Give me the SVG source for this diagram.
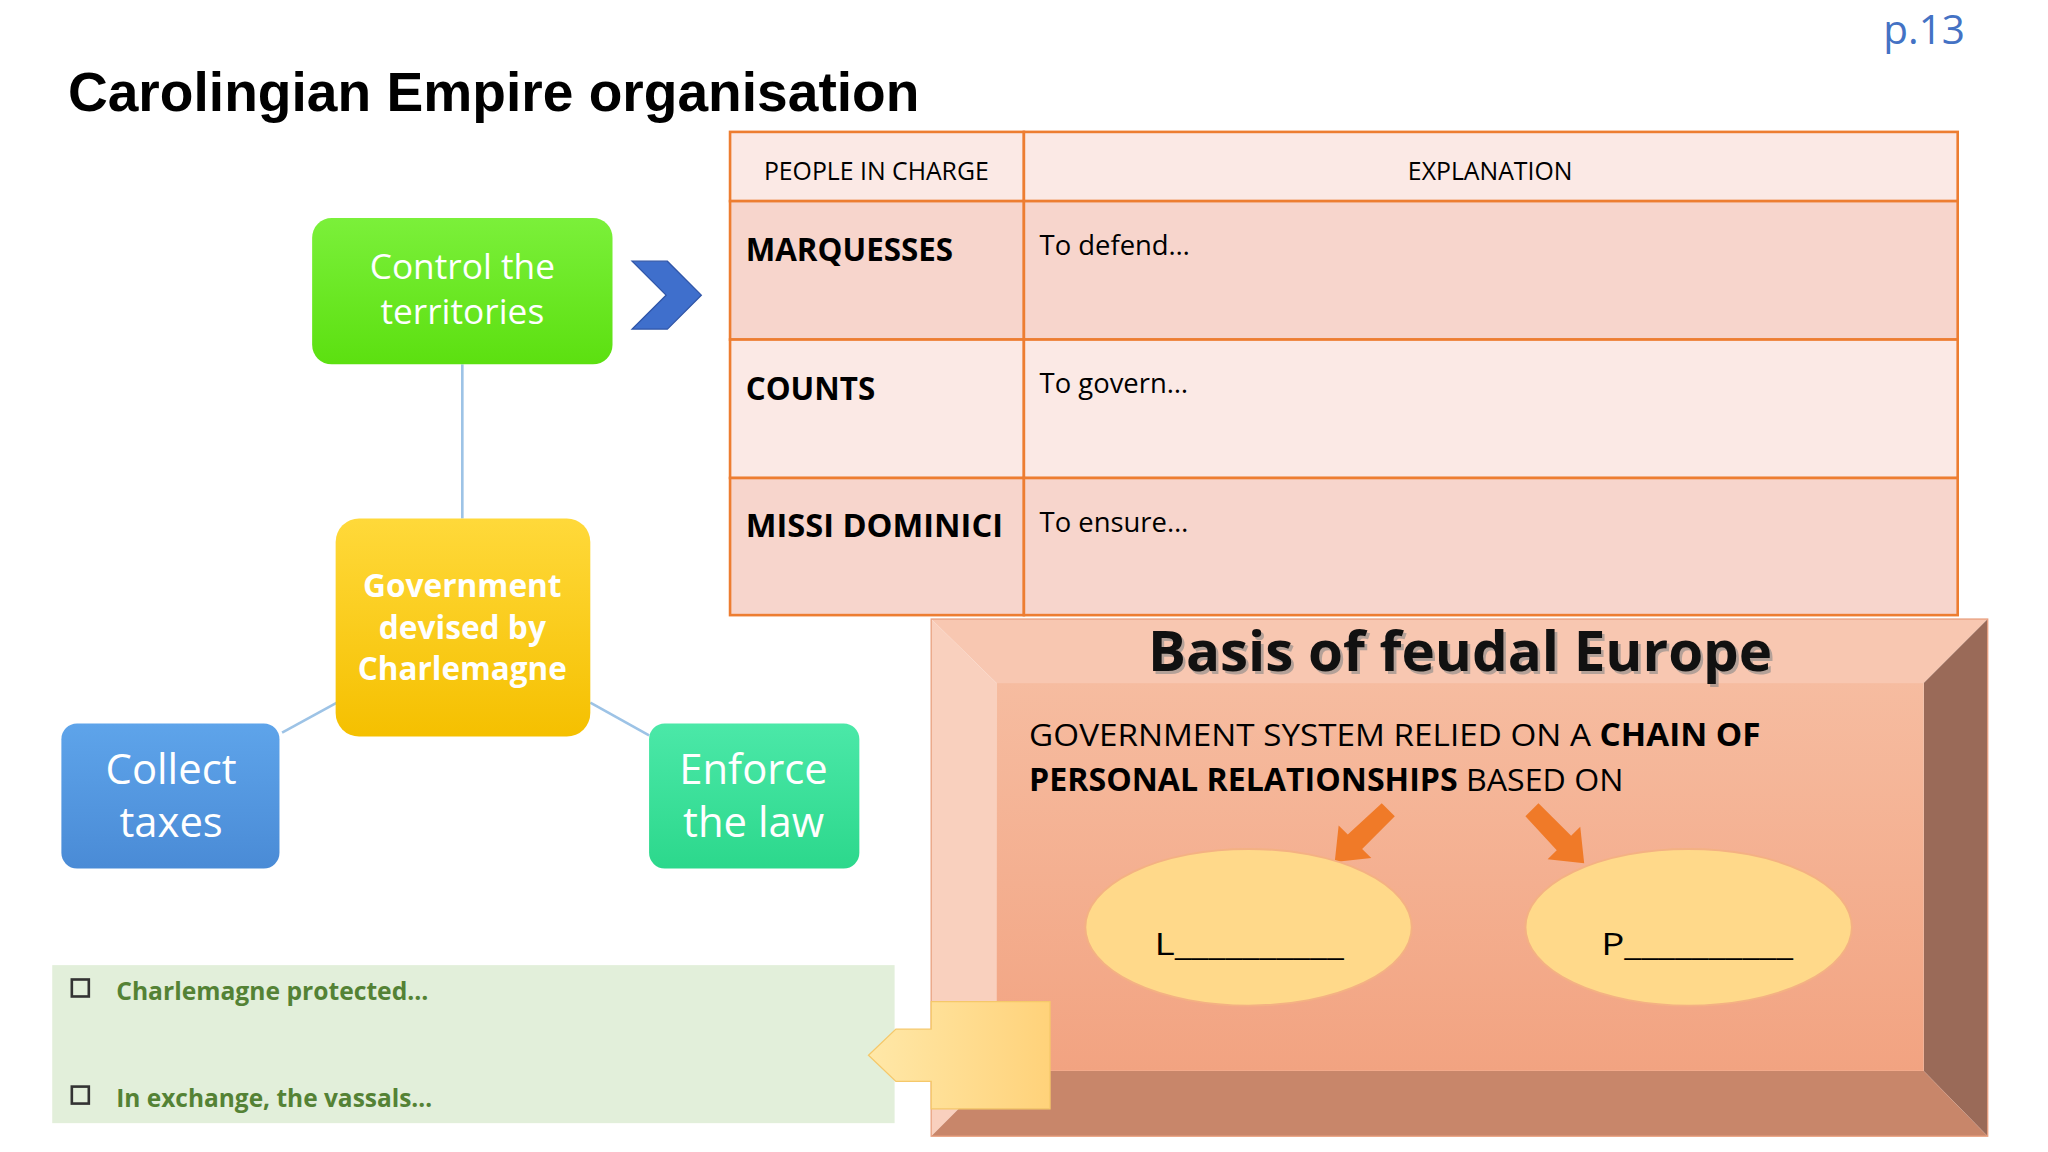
<svg xmlns="http://www.w3.org/2000/svg" width="2048" height="1152" viewBox="0 0 2048 1152">
<style>
.t{font-family:"Open Sans","Noto Sans",sans-serif}
.w{fill:#fff}
.cell{stroke:#ED7D31;stroke-width:2}
.con{stroke:#9DC3E6;stroke-width:2;fill:none}
</style>
<defs>
<linearGradient id="gG" x1="0" y1="0" x2="0" y2="1"><stop offset="0" stop-color="#7BF03A"/><stop offset="1" stop-color="#5CE010"/></linearGradient>
<linearGradient id="gY" x1="0" y1="0" x2="0" y2="1"><stop offset="0" stop-color="#FFD93A"/><stop offset="1" stop-color="#F5C000"/></linearGradient>
<linearGradient id="gB" x1="0" y1="0" x2="0" y2="1"><stop offset="0" stop-color="#5EA4EA"/><stop offset="1" stop-color="#4A8BD6"/></linearGradient>
<linearGradient id="gT" x1="0" y1="0" x2="0" y2="1"><stop offset="0" stop-color="#4BE8A8"/><stop offset="1" stop-color="#2CD88C"/></linearGradient>
<linearGradient id="gF" x1="0" y1="0" x2="0" y2="1"><stop offset="0" stop-color="#F6BCA0"/><stop offset="1" stop-color="#F2A381"/></linearGradient>
<linearGradient id="gA" x1="0" y1="0" x2="1" y2="0"><stop offset="0" stop-color="#FFE8A8"/><stop offset="1" stop-color="#FFD27A"/></linearGradient>
</defs>
<g transform="scale(1.306)">
<text x="52" y="85" font-family="Liberation Sans,Arial,sans-serif" font-size="43" font-weight="bold" fill="#000" textLength="652" lengthAdjust="spacingAndGlyphs">Carolingian Empire organisation</text>
<text x="1442" y="34" class="t" font-size="31" fill="#4472C4">p.13</text>

<g id="table">
<rect x="559" y="101" width="225" height="53" fill="#FBE9E5" class="cell"/>
<rect x="784" y="101" width="715" height="53" fill="#FBE9E5" class="cell"/>
<rect x="559" y="154" width="225" height="106" fill="#F7D5CC" class="cell"/>
<rect x="784" y="154" width="715" height="106" fill="#F7D5CC" class="cell"/>
<rect x="559" y="260" width="225" height="106" fill="#FBE9E5" class="cell"/>
<rect x="784" y="260" width="715" height="106" fill="#FBE9E5" class="cell"/>
<rect x="559" y="366" width="225" height="105" fill="#F7D5CC" class="cell"/>
<rect x="784" y="366" width="715" height="105" fill="#F7D5CC" class="cell"/>
<text x="671" y="138" class="t" font-size="19" text-anchor="middle">PEOPLE IN CHARGE</text>
<text x="1141" y="138" class="t" font-size="19" text-anchor="middle">EXPLANATION</text>
<text x="571" y="200" class="t" font-size="24" font-weight="bold">MARQUESSES</text>
<text x="571" y="306" class="t" font-size="24" font-weight="bold">COUNTS</text>
<text x="571" y="411" class="t" font-size="24" font-weight="bold" textLength="197" lengthAdjust="spacingAndGlyphs">MISSI DOMINICI</text>
<text x="796" y="195" class="t" font-size="21">To defend…</text>
<text x="796" y="301" class="t" font-size="21">To govern…</text>
<text x="796" y="407" class="t" font-size="21">To ensure…</text>
</g>

<g id="chevron"><polygon points="484,200 511,200 537,226 511,252 484,252 510,226" fill="#3F6FCC" stroke="#2F55A8" stroke-width="1"/></g>

<g id="connectors">
<line x1="354" y1="279" x2="354" y2="397" class="con"/>
<line x1="216" y1="561" x2="258" y2="538" class="con"/>
<line x1="452" y1="538" x2="497" y2="563" class="con"/>
</g>

<g id="control"><rect x="239" y="167" width="230" height="112" rx="15" fill="url(#gG)"/>
<text x="354" y="214" class="t w" font-size="27" text-anchor="middle">Control the</text>
<text x="354" y="248" class="t w" font-size="27" text-anchor="middle">territories</text></g>

<g id="gov"><rect x="257" y="397" width="195" height="167" rx="18" fill="url(#gY)"/>
<text x="354" y="457" class="t w" font-size="25" font-weight="bold" text-anchor="middle" textLength="152" lengthAdjust="spacingAndGlyphs">Government</text>
<text x="354" y="489" class="t w" font-size="25" font-weight="bold" text-anchor="middle" textLength="128" lengthAdjust="spacingAndGlyphs">devised by</text>
<text x="354" y="521" class="t w" font-size="25" font-weight="bold" text-anchor="middle" textLength="160" lengthAdjust="spacingAndGlyphs">Charlemagne</text></g>

<g id="collect"><rect x="47" y="554" width="167" height="111" rx="12" fill="url(#gB)"/>
<text x="131" y="600" class="t w" font-size="32" text-anchor="middle">Collect</text>
<text x="131" y="641" class="t w" font-size="32" text-anchor="middle">taxes</text></g>

<g id="enforce"><rect x="497" y="554" width="161" height="111" rx="12" fill="url(#gT)"/>
<text x="577" y="600" class="t w" font-size="32" text-anchor="middle">Enforce</text>
<text x="577" y="641" class="t w" font-size="32" text-anchor="middle">the law</text></g>

<g id="notes"><rect x="40" y="739" width="645" height="121" fill="#E2EFDA"/>
<rect x="55" y="750" width="13" height="13" fill="none" stroke="#333" stroke-width="2"/>
<rect x="55" y="832" width="13" height="13" fill="none" stroke="#333" stroke-width="2"/>
<text x="89" y="766" class="t" font-size="19" font-weight="bold" fill="#548235" textLength="239" lengthAdjust="spacingAndGlyphs">Charlemagne protected…</text>
<text x="89" y="848" class="t" font-size="19" font-weight="bold" fill="#548235" textLength="242" lengthAdjust="spacingAndGlyphs">In exchange, the vassals…</text></g>

<g id="basis">
<polygon points="713,474 1522,474 1473,523 763,523" fill="#F8C7B1"/>
<polygon points="713,474 763,523 763,820 713,870" fill="#F9D0BE"/>
<polygon points="1522,474 1522,870 1473,820 1473,523" fill="#9A6A58"/>
<polygon points="713,870 763,820 1473,820 1522,870" fill="#C8866A"/>
<rect x="763" y="523" width="710" height="297" fill="url(#gF)"/>
<rect x="713" y="474" width="809" height="396" fill="none" stroke="#E9A080" stroke-width="1"/>
<text x="1120" y="516" class="t" font-size="42" font-weight="bold" text-anchor="middle" fill="#888" opacity="0.6" textLength="478" lengthAdjust="spacingAndGlyphs">Basis of feudal Europe</text>
<text x="1118" y="514" class="t" font-size="42" font-weight="bold" text-anchor="middle" fill="#111" textLength="478" lengthAdjust="spacingAndGlyphs">Basis of feudal Europe</text>
<text x="788" y="571" class="t" font-size="24" textLength="560" lengthAdjust="spacingAndGlyphs">GOVERNMENT SYSTEM RELIED ON A <tspan font-weight="bold">CHAIN OF</tspan></text>
<text x="788" y="606" class="t" font-size="24" textLength="455" lengthAdjust="spacingAndGlyphs"><tspan font-weight="bold">PERSONAL RELATIONSHIPS</tspan> BASED ON</text>
<polygon points="1058,615 1068,625 1043,650 1050,657 1022,660 1025,632 1032,639" fill="#F07A28"/>
<polygon points="1168,625 1178,615 1203,640 1210,633 1213,661 1185,658 1192,651" fill="#F07A28"/>
<ellipse cx="956" cy="710" rx="125" ry="60" fill="#FFD98A" stroke="#F4B183" stroke-width="1.5"/>
<ellipse cx="1293" cy="710" rx="125" ry="60" fill="#FFD98A" stroke="#F4B183" stroke-width="1.5"/>
<text x="884" y="731" class="t" font-size="24" textLength="145" lengthAdjust="spacingAndGlyphs">L__________</text>
<text x="1226" y="731" class="t" font-size="24" textLength="147" lengthAdjust="spacingAndGlyphs">P__________</text>
<polygon points="713,767 804,767 804,849 713,849 713,828 686,828 665,808 686,788 713,788" fill="url(#gA)" stroke="#F5C86A" stroke-width="1"/>
</g>
</g>
</svg>
